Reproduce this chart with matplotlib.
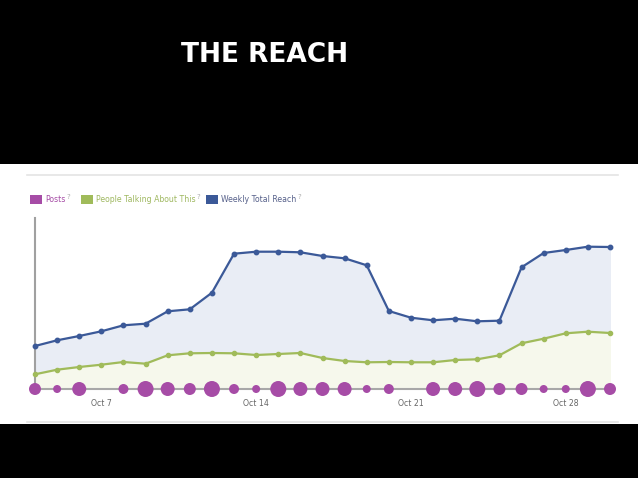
import matplotlib.pyplot as plt
from matplotlib import font_manager
from matplotlib.patches import Rectangle

# days Oct 4 .. Oct 30
days = list(range(4, 31))
reach = [43, 48.7, 53, 57.7, 63.7, 65.3, 77.7, 79.7, 96.3, 135.3, 137.3, 137.3, 136.7, 133,
         130.7, 123.7, 78, 71.3, 68.7, 70.3, 67.7, 68.3, 121.7, 136, 139, 142.3, 142]
talking = [14.7, 19.3, 22, 24.3, 27, 25.3, 33.7, 35.7, 36, 35.7, 34, 35, 36, 31,
           28, 26.7, 27, 26.7, 26.7, 29, 29.7, 33.7, 45.7, 50.3, 55.7, 57.3, 56]
posts = [3, 1, 4, 0, 2, 5, 4, 3, 5, 2, 1, 5, 4, 4, 4, 1, 2, 0, 4, 4, 5, 3, 3, 1, 1, 5, 3]
tick_days = [7, 14, 21, 28]
tick_labels = ["Oct 7", "Oct 14", "Oct 21", "Oct 28"]

W, H = 638, 478
fig = plt.figure(figsize=(W / 100, H / 100), dpi=100, facecolor="black")

def fy(y):
    return 1 - y / H

# white panel
fig.patches.append(Rectangle((0, fy(424)), 1, (424 - 164) / H, transform=fig.transFigure,
                             facecolor="white", edgecolor="none", zorder=-2))
for yy in (175, 422):
    fig.add_artist(plt.Line2D([27 / W, 618 / W], [fy(yy), fy(yy)], color="#e4e4e4", lw=1.2, zorder=-1))

# narrow font for the title if there is one
try:
    font_manager.findfont("Liberation Sans Narrow", fallback_to_default=False)
    title_font, title_size = "Liberation Sans Narrow", 25
except ValueError:
    title_font, title_size = "DejaVu Sans", 19
fig.text(265 / W, fy(55), "THE REACH", color="white", fontsize=title_size, fontweight="bold",
         family=title_font, ha="center", va="center")

# chart axes: day 4 at x=35px, day 30 at x=610px, zero at y=389px
ax = fig.add_axes([35 / W, fy(389), (610 - 35) / W, (389 - 218) / H])
ax.set_xlim(4, 30)
ax.set_ylim(0, 171)
ax.patch.set_alpha(0)
for s in ["top", "right", "bottom"]:
    ax.spines[s].set_visible(False)
ax.spines["left"].set_color("#a0a0a0")
ax.spines["left"].set_linewidth(1.5)
ax.set_yticks([])

blue = "#3b5998"
green = "#a0bb5a"
purple = "#a64ca6"
ax.fill_between(days, reach, 0, color="#e9edf5", zorder=1)
ax.fill_between(days, talking, 0, color="#f6f8ec", zorder=2)
ax.plot(days, reach, color=blue, lw=1.6, marker="o", ms=3.2, zorder=4, clip_on=False)
ax.plot(days, talking, color=green, lw=1.6, marker="o", ms=3.0, zorder=4, clip_on=False)

ax.plot([4, 30], [0, 0], color="#a8a8a8", lw=1.5, zorder=5, clip_on=False)
pd = [d for d, p in zip(days, posts) if p > 0]
ps = [((3 + p) * 2 * 0.72) ** 2 for p in posts if p > 0]
ax.scatter(pd, [0] * len(pd), s=ps, color=purple, zorder=6, clip_on=False, linewidths=0)

ax.set_xticks(tick_days)
ax.set_xticklabels(tick_labels, fontsize=5.6, color="#666666")
ax.tick_params(axis="x", length=0, pad=7)

# legend
items = [("Posts", purple, "#a64ca6", 30), ("People Talking About This", green, "#9fb860", 81),
         ("Weekly Total Reach", blue, "#56608a", 206)]
for label, col, tcol, x0 in items:
    fig.patches.append(Rectangle((x0 / W, fy(204)), 12 / W, 9 / H, transform=fig.transFigure,
                                 facecolor=col, edgecolor="none"))
    t = fig.text((x0 + 15) / W, fy(200), label, color=tcol, fontsize=5.6, va="center")
    fig.canvas.draw()
    bb = t.get_window_extent()
    fig.text(bb.x1 / W + 1 / W, fy(197), "?", color="#b0b0b0", fontsize=5, va="center")

fig.savefig("out.png", dpi=100, facecolor="black")
